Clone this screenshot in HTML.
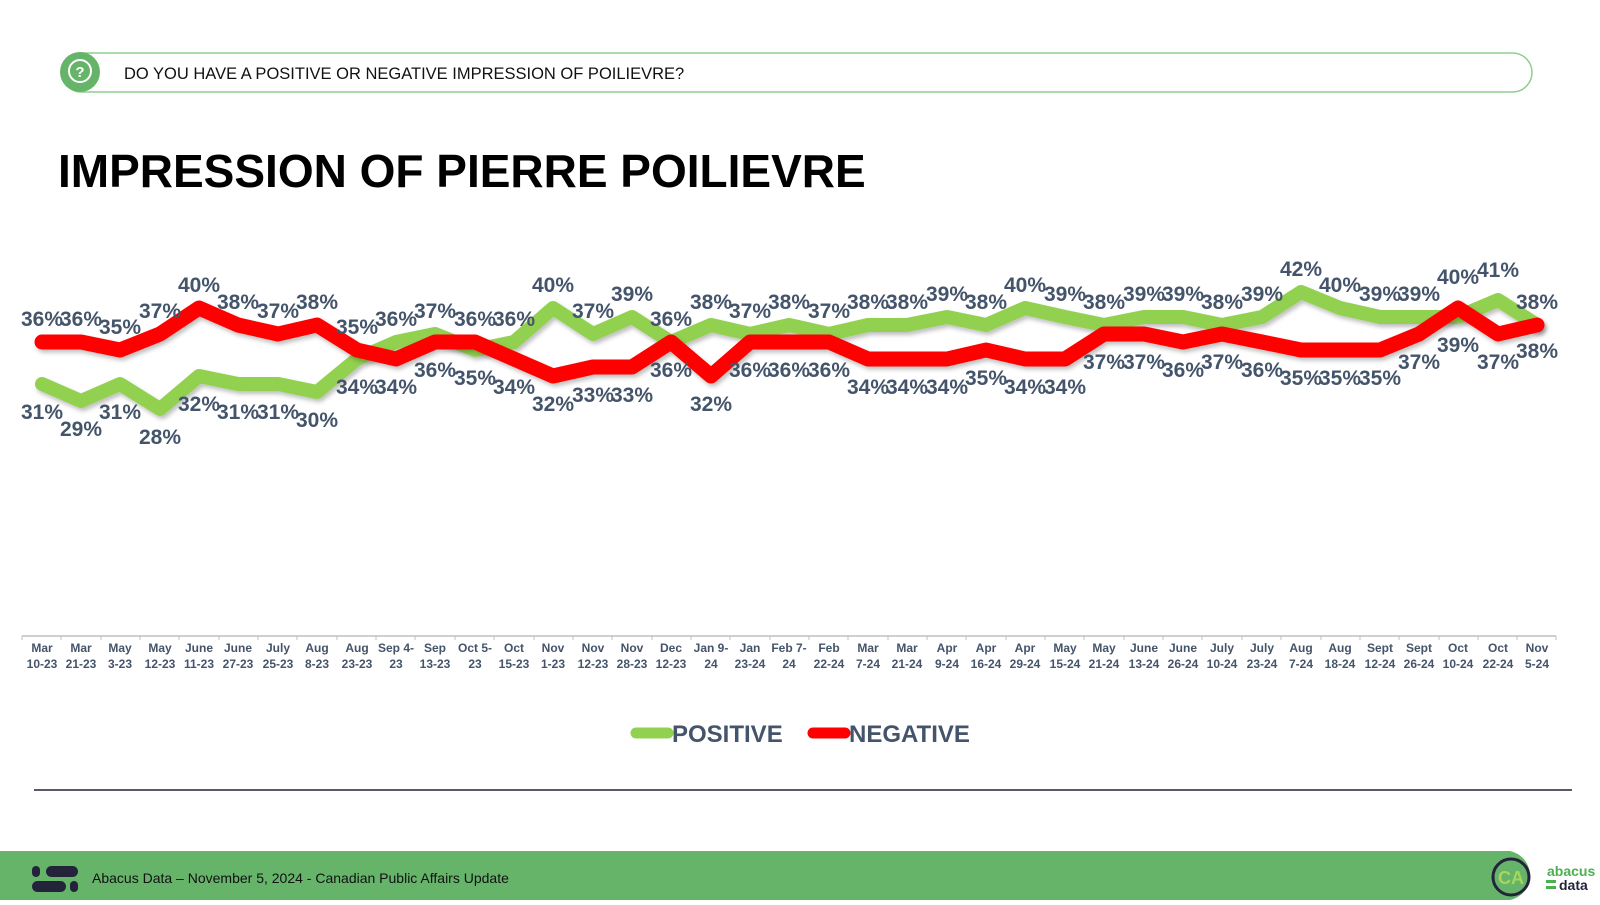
<!DOCTYPE html>
<html><head><meta charset="utf-8"><style>
html,body{margin:0;padding:0;background:#fff;}
body{width:1600px;height:900px;overflow:hidden;font-family:"Liberation Sans",sans-serif;}
</style></head><body>
<svg width="1600" height="900" viewBox="0 0 1600 900" xmlns="http://www.w3.org/2000/svg" font-family="Liberation Sans, sans-serif">
<defs><filter id="sh" x="-5%" y="-20%" width="110%" height="140%"><feDropShadow dx="2" dy="3" stdDeviation="2" flood-color="#000" flood-opacity="0.25"/></filter></defs>
<rect x="62" y="53" width="1470" height="39" rx="19.5" fill="#fff" stroke="#8fcf8f" stroke-width="1.5"/>
<circle cx="80" cy="72" r="20" fill="#66b46a"/>
<circle cx="80" cy="71" r="11" fill="none" stroke="#fff" stroke-width="2"/>
<text x="80" y="77" font-size="15" font-weight="bold" fill="#fff" text-anchor="middle">?</text>
<text x="124" y="79" font-size="16.5" fill="#111">DO YOU HAVE A POSITIVE OR NEGATIVE IMPRESSION OF POILIEVRE?</text>
<text x="58" y="187" font-size="46" font-weight="bold" fill="#000">IMPRESSION OF PIERRE POILIEVRE</text>
<polyline filter="url(#sh)" fill="none" stroke="#92d050" stroke-width="14" stroke-linejoin="round" stroke-linecap="round" points="42,384 81,401 120,384 160,409 199,376 238,384 278,384 317,392 357,359 396,342 435,334 475,350 514,342 553,308 593,334 632,317 671,342 711,325 750,334 789,325 829,334 868,325 907,325 947,317 986,325 1025,308 1065,317 1104,325 1144,317 1183,317 1222,325 1262,317 1301,292 1340,308 1380,317 1419,317 1458,317 1498,300 1537,325"/>
<polyline filter="url(#sh)" fill="none" stroke="#ff0000" stroke-width="15" stroke-linejoin="round" stroke-linecap="round" points="42,342 81,342 120,350 160,334 199,308 238,325 278,334 317,325 357,350 396,359 435,342 475,342 514,359 553,376 593,367 632,367 671,342 711,376 750,342 789,342 829,342 868,359 907,359 947,359 986,350 1025,359 1065,359 1104,334 1144,334 1183,342 1222,334 1262,342 1301,350 1340,350 1380,350 1419,334 1458,308 1498,334 1537,325"/>
<g font-size="21" font-weight="bold" fill="#44546a" text-anchor="middle">
<text x="42" y="326">36%</text><text x="42" y="419">31%</text>
<text x="81" y="326">36%</text><text x="81" y="436">29%</text>
<text x="120" y="334">35%</text><text x="120" y="419">31%</text>
<text x="160" y="318">37%</text><text x="160" y="444">28%</text>
<text x="199" y="292">40%</text><text x="199" y="411">32%</text>
<text x="238" y="309">38%</text><text x="238" y="419">31%</text>
<text x="278" y="318">37%</text><text x="278" y="419">31%</text>
<text x="317" y="309">38%</text><text x="317" y="427">30%</text>
<text x="357" y="334">35%</text><text x="357" y="394">34%</text>
<text x="396" y="326">36%</text><text x="396" y="394">34%</text>
<text x="435" y="318">37%</text><text x="435" y="377">36%</text>
<text x="475" y="326">36%</text><text x="475" y="385">35%</text>
<text x="514" y="326">36%</text><text x="514" y="394">34%</text>
<text x="553" y="292">40%</text><text x="553" y="411">32%</text>
<text x="593" y="318">37%</text><text x="593" y="402">33%</text>
<text x="632" y="301">39%</text><text x="632" y="402">33%</text>
<text x="671" y="326">36%</text><text x="671" y="377">36%</text>
<text x="711" y="309">38%</text><text x="711" y="411">32%</text>
<text x="750" y="318">37%</text><text x="750" y="377">36%</text>
<text x="789" y="309">38%</text><text x="789" y="377">36%</text>
<text x="829" y="318">37%</text><text x="829" y="377">36%</text>
<text x="868" y="309">38%</text><text x="868" y="394">34%</text>
<text x="907" y="309">38%</text><text x="907" y="394">34%</text>
<text x="947" y="301">39%</text><text x="947" y="394">34%</text>
<text x="986" y="309">38%</text><text x="986" y="385">35%</text>
<text x="1025" y="292">40%</text><text x="1025" y="394">34%</text>
<text x="1065" y="301">39%</text><text x="1065" y="394">34%</text>
<text x="1104" y="309">38%</text><text x="1104" y="369">37%</text>
<text x="1144" y="301">39%</text><text x="1144" y="369">37%</text>
<text x="1183" y="301">39%</text><text x="1183" y="377">36%</text>
<text x="1222" y="309">38%</text><text x="1222" y="369">37%</text>
<text x="1262" y="301">39%</text><text x="1262" y="377">36%</text>
<text x="1301" y="276">42%</text><text x="1301" y="385">35%</text>
<text x="1340" y="292">40%</text><text x="1340" y="385">35%</text>
<text x="1380" y="301">39%</text><text x="1380" y="385">35%</text>
<text x="1419" y="301">39%</text><text x="1419" y="369">37%</text>
<text x="1458" y="284">40%</text><text x="1458" y="352">39%</text>
<text x="1498" y="277">41%</text><text x="1498" y="369">37%</text>
<text x="1537" y="309">38%</text><text x="1537" y="358">38%</text>
</g>
<line x1="22" y1="636" x2="1556" y2="636" stroke="#bfbfbf" stroke-width="1.5"/>
<g stroke="#bfbfbf" stroke-width="1">
<path d="M22 636v4M61 636v4M101 636v4M140 636v4M179 636v4M219 636v4M258 636v4M297 636v4M337 636v4M376 636v4M415 636v4M455 636v4M494 636v4M534 636v4M573 636v4M612 636v4M652 636v4M691 636v4M730 636v4M770 636v4M809 636v4M848 636v4M888 636v4M927 636v4M966 636v4M1006 636v4M1045 636v4M1084 636v4M1124 636v4M1163 636v4M1202 636v4M1242 636v4M1281 636v4M1321 636v4M1360 636v4M1399 636v4M1439 636v4M1478 636v4M1517 636v4M1556 636v4"/>
</g>
<g font-size="12" font-weight="bold" fill="#44546a" text-anchor="middle">
<text x="42" y="652">Mar</text><text x="42" y="668">10-23</text>
<text x="81" y="652">Mar</text><text x="81" y="668">21-23</text>
<text x="120" y="652">May</text><text x="120" y="668">3-23</text>
<text x="160" y="652">May</text><text x="160" y="668">12-23</text>
<text x="199" y="652">June</text><text x="199" y="668">11-23</text>
<text x="238" y="652">June</text><text x="238" y="668">27-23</text>
<text x="278" y="652">July</text><text x="278" y="668">25-23</text>
<text x="317" y="652">Aug</text><text x="317" y="668">8-23</text>
<text x="357" y="652">Aug</text><text x="357" y="668">23-23</text>
<text x="396" y="652">Sep 4-</text><text x="396" y="668">23</text>
<text x="435" y="652">Sep</text><text x="435" y="668">13-23</text>
<text x="475" y="652">Oct 5-</text><text x="475" y="668">23</text>
<text x="514" y="652">Oct</text><text x="514" y="668">15-23</text>
<text x="553" y="652">Nov</text><text x="553" y="668">1-23</text>
<text x="593" y="652">Nov</text><text x="593" y="668">12-23</text>
<text x="632" y="652">Nov</text><text x="632" y="668">28-23</text>
<text x="671" y="652">Dec</text><text x="671" y="668">12-23</text>
<text x="711" y="652">Jan 9-</text><text x="711" y="668">24</text>
<text x="750" y="652">Jan</text><text x="750" y="668">23-24</text>
<text x="789" y="652">Feb 7-</text><text x="789" y="668">24</text>
<text x="829" y="652">Feb</text><text x="829" y="668">22-24</text>
<text x="868" y="652">Mar</text><text x="868" y="668">7-24</text>
<text x="907" y="652">Mar</text><text x="907" y="668">21-24</text>
<text x="947" y="652">Apr</text><text x="947" y="668">9-24</text>
<text x="986" y="652">Apr</text><text x="986" y="668">16-24</text>
<text x="1025" y="652">Apr</text><text x="1025" y="668">29-24</text>
<text x="1065" y="652">May</text><text x="1065" y="668">15-24</text>
<text x="1104" y="652">May</text><text x="1104" y="668">21-24</text>
<text x="1144" y="652">June</text><text x="1144" y="668">13-24</text>
<text x="1183" y="652">June</text><text x="1183" y="668">26-24</text>
<text x="1222" y="652">July</text><text x="1222" y="668">10-24</text>
<text x="1262" y="652">July</text><text x="1262" y="668">23-24</text>
<text x="1301" y="652">Aug</text><text x="1301" y="668">7-24</text>
<text x="1340" y="652">Aug</text><text x="1340" y="668">18-24</text>
<text x="1380" y="652">Sept</text><text x="1380" y="668">12-24</text>
<text x="1419" y="652">Sept</text><text x="1419" y="668">26-24</text>
<text x="1458" y="652">Oct</text><text x="1458" y="668">10-24</text>
<text x="1498" y="652">Oct</text><text x="1498" y="668">22-24</text>
<text x="1537" y="652">Nov</text><text x="1537" y="668">5-24</text>
</g>
<line x1="636" y1="733" x2="668" y2="733" stroke="#92d050" stroke-width="11" stroke-linecap="round"/>
<text x="672" y="742" font-size="24" font-weight="bold" fill="#44546a">POSITIVE</text>
<line x1="813" y1="733" x2="845" y2="733" stroke="#ff0000" stroke-width="11" stroke-linecap="round"/>
<text x="849" y="742" font-size="24" font-weight="bold" fill="#44546a">NEGATIVE</text>
<line x1="34" y1="790" x2="1572" y2="790" stroke="#222238" stroke-width="1.5"/>
<path d="M0 851 H1510 A25 25 0 0 1 1510 900 H0 Z" fill="#66b46a"/>
<rect x="32" y="866" width="8" height="11" rx="4" fill="#23243a"/>
<rect x="46" y="866" width="32" height="11" rx="5.5" fill="#23243a"/>
<rect x="32" y="881" width="34" height="11" rx="5.5" fill="#23243a"/>
<rect x="70" y="881" width="8" height="11" rx="4" fill="#23243a"/>
<text x="92" y="883" font-size="14" fill="#111">Abacus Data – November 5, 2024 - Canadian Public Affairs Update</text>
<circle cx="1511" cy="877" r="18" fill="none" stroke="#23243a" stroke-width="3"/>
<text x="1511" y="884" font-size="18" font-weight="bold" fill="#a6d65a" text-anchor="middle">CA</text>
<text x="1547" y="876" font-size="14" font-weight="bold" fill="#4caf50">abacus</text>
<text x="1559" y="890" font-size="14" font-weight="bold" fill="#23243a">data</text>
<rect x="1546" y="880" width="10" height="3" fill="#4caf50"/>
<rect x="1546" y="886" width="10" height="3" fill="#4caf50"/>
</svg>
</body></html>
